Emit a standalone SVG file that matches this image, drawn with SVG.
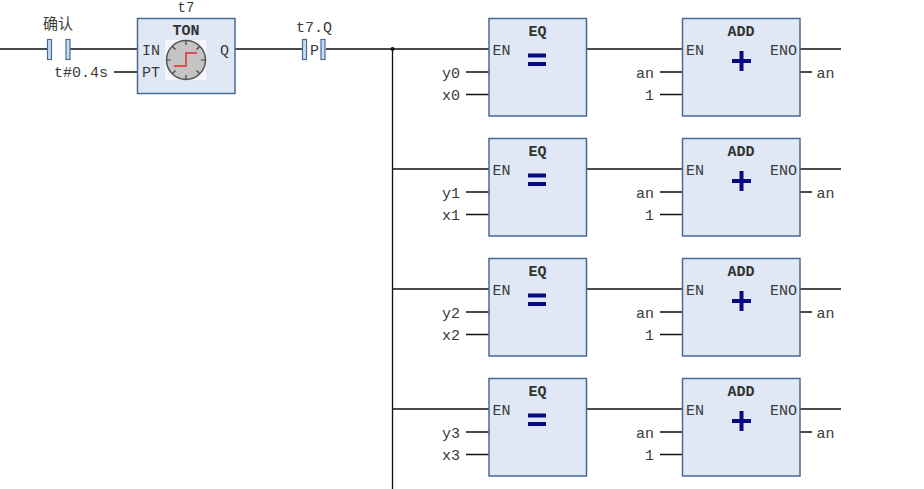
<svg xmlns="http://www.w3.org/2000/svg" width="924" height="489" viewBox="0 0 924 489">
<style>
text{font-family:"Liberation Mono","Noto Sans CJK SC",monospace;font-size:15px;fill:#3a3a3a}
.t{font-weight:bold;text-anchor:middle;fill:#333}
.m{text-anchor:middle}.e{text-anchor:end}
.b{fill:#e0e8f6;stroke:#4a6a96;stroke-width:1.5}
.c{fill:#c8dcf2;stroke:#4a6a96;stroke-width:1.2}
.w{fill:none;stroke:#111;stroke-width:1.3}
.s{fill:#0a0a80}
.p{stroke:#0a0a80;stroke-width:4}
</style>
<g id="connectors" class="w">
<path d="M0 49H48M70 49H138M235 49H302M326 49H489M392.500 49V489M586 49H682M800 49H841M392 169H489M586 169H682M800 169H841M392 289H489M586 289H682M800 289H841M392 409H489M586 409H682M800 409H841"/>
<path d="M114 72H138M466 72H489M466 94.500H489M660 72H682M660 94.500H682M800 72H812M466 192H489M466 214.500H489M660 192H682M660 214.500H682M800 192H812M466 312H489M466 334.500H489M660 312H682M660 334.500H682M800 312H812M466 432H489M466 454.500H489M660 432H682M660 454.500H682M800 432H812"/>
<circle cx="392.500" cy="49" r="2" fill="#111" stroke="none"/>
</g>
<g id="contact-confirm"><rect class="c" x="47.500" y="39.500" width="4" height="20"/><rect class="c" x="66" y="39.500" width="4" height="20"/><text x="58" y="29" class="m">确认</text><text x="54" y="77">t#0.4s</text></g>
<g id="ton"><rect class="b" x="137.500" y="18.500" width="97.500" height="75"/><text class="t" x="186" y="35">TON</text><text x="142" y="55">IN</text><text x="142" y="77">PT</text><text x="220" y="55">Q</text><text x="186" y="11.500" class="m" style="font-size:14px">t7</text>
<rect x="165" y="40" width="41" height="40" fill="#f4f6fb"/><circle cx="186" cy="60" r="19.500" fill="#c4c4c4" stroke="#555" stroke-width="1.500"/><path d="M186 41v4M186 75v4M167 60h4M201 60h4M172.500 46.500l3 3M199.500 46.500l-3 3M172.500 73.500l3-3M199.500 73.500l-3-3" stroke="#444" stroke-width="1.200"/><path d="M174 66H186V53H197" fill="none" stroke="#e05050" stroke-width="2"/></g>
<g id="contact-p"><rect class="c" x="302.500" y="39.500" width="4" height="20"/><rect class="c" x="321" y="39.500" width="4" height="20"/><text x="314.500" y="55" class="m">P</text><text x="314" y="32" class="m">t7.Q</text></g>
<g id="eq0"><rect class="b" x="489" y="18.500" width="97.500" height="97.500"/><text class="t" x="537.500" y="36">EQ</text><text x="492.500" y="55">EN</text><rect class="s" x="528" y="53.500" width="18" height="4"/><rect class="s" x="528" y="62" width="18" height="4"/><text x="460" y="78" class="e">y0</text><text x="460" y="100" class="e">x0</text></g>
<g id="add0"><rect class="b" x="682.500" y="18.500" width="117.500" height="97.500"/><text class="t" x="741" y="36">ADD</text><text x="686" y="55">EN</text><text x="797" y="55" class="e">ENO</text><path class="p" d="M732 61H751M741.500 51V71"/><text x="654" y="78" class="e">an</text><text x="654" y="100" class="e">1</text><text x="816.500" y="78">an</text></g>
<g id="eq1"><rect class="b" x="489" y="138.500" width="97.500" height="97.500"/><text class="t" x="537.500" y="156">EQ</text><text x="492.500" y="175">EN</text><rect class="s" x="528" y="173.500" width="18" height="4"/><rect class="s" x="528" y="182" width="18" height="4"/><text x="460" y="198" class="e">y1</text><text x="460" y="220" class="e">x1</text></g>
<g id="add1"><rect class="b" x="682.500" y="138.500" width="117.500" height="97.500"/><text class="t" x="741" y="156">ADD</text><text x="686" y="175">EN</text><text x="797" y="175" class="e">ENO</text><path class="p" d="M732 181H751M741.500 171V191"/><text x="654" y="198" class="e">an</text><text x="654" y="220" class="e">1</text><text x="816.500" y="198">an</text></g>
<g id="eq2"><rect class="b" x="489" y="258.500" width="97.500" height="97.500"/><text class="t" x="537.500" y="276">EQ</text><text x="492.500" y="295">EN</text><rect class="s" x="528" y="293.500" width="18" height="4"/><rect class="s" x="528" y="302" width="18" height="4"/><text x="460" y="318" class="e">y2</text><text x="460" y="340" class="e">x2</text></g>
<g id="add2"><rect class="b" x="682.500" y="258.500" width="117.500" height="97.500"/><text class="t" x="741" y="276">ADD</text><text x="686" y="295">EN</text><text x="797" y="295" class="e">ENO</text><path class="p" d="M732 301H751M741.500 291V311"/><text x="654" y="318" class="e">an</text><text x="654" y="340" class="e">1</text><text x="816.500" y="318">an</text></g>
<g id="eq3"><rect class="b" x="489" y="378.500" width="97.500" height="97.500"/><text class="t" x="537.500" y="396">EQ</text><text x="492.500" y="415">EN</text><rect class="s" x="528" y="413.500" width="18" height="4"/><rect class="s" x="528" y="422" width="18" height="4"/><text x="460" y="438" class="e">y3</text><text x="460" y="460" class="e">x3</text></g>
<g id="add3"><rect class="b" x="682.500" y="378.500" width="117.500" height="97.500"/><text class="t" x="741" y="396">ADD</text><text x="686" y="415">EN</text><text x="797" y="415" class="e">ENO</text><path class="p" d="M732 421H751M741.500 411V431"/><text x="654" y="438" class="e">an</text><text x="654" y="460" class="e">1</text><text x="816.500" y="438">an</text></g>
</svg>
